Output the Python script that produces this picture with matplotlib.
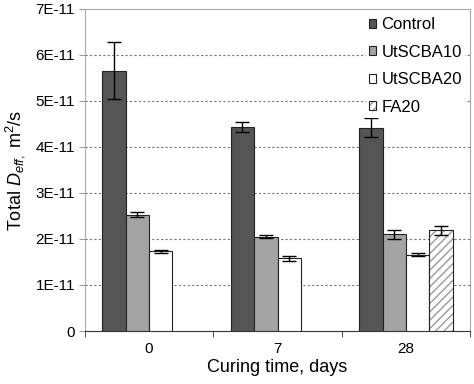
import matplotlib
matplotlib.use('Agg')
import matplotlib.pyplot as plt
import numpy as np
from matplotlib.legend_handler import HandlerTuple

plt.rcParams['font.family'] = ['Liberation Sans', 'DejaVu Sans']
plt.rcParams['mathtext.fontset'] = 'custom'
plt.rcParams['mathtext.rm'] = 'Liberation Sans'
plt.rcParams['mathtext.it'] = 'Liberation Sans:italic'

# Data (values in units of 1E-11 m2/s)
days = ['0', '7', '28']
series = ['Control', 'UtSCBA10', 'UtSCBA20', 'FA20']
control = [5.66, 4.44, 4.42]
control_err = [0.61, 0.11, 0.20]
utscba10 = [2.53, 2.05, 2.10]
utscba10_err = [0.06, 0.04, 0.10]
utscba20 = [1.73, 1.58, 1.66]
utscba20_err = [0.04, 0.05, 0.03]
fa20 = [np.nan, np.nan, 2.19]
fa20_err = [np.nan, np.nan, 0.10]
yticks = [0, 1, 2, 3, 4, 5, 6, 7]
ytick_labels = ['0', '1E-11', '2E-11', '3E-11', '4E-11', '5E-11', '6E-11', '7E-11']

fig = plt.figure(figsize=(4.74, 3.84), dpi=100)
ax = fig.add_axes([0.179, 0.138, 0.813, 0.839])

x = np.arange(len(days))
w = 0.182
offsets = np.array([-1.5, -0.5, 0.5, 1.5]) * w
errkw = dict(ecolor='black', elinewidth=1, capsize=5, capthick=1)

b1 = ax.bar(x + offsets[0], control, w, yerr=control_err, color='#555555',
            edgecolor='#222222', linewidth=0.8, error_kw=errkw, zorder=3)
b2 = ax.bar(x + offsets[1], utscba10, w, yerr=utscba10_err, color='#a3a3a3',
            edgecolor='#222222', linewidth=0.8, error_kw=errkw, zorder=3)
b3 = ax.bar(x + offsets[2], utscba20, w, yerr=utscba20_err, color='white',
            edgecolor='#222222', linewidth=0.8, error_kw=errkw, zorder=3)
# hatched bar: hatch in gray, outline drawn separately
b4h = ax.bar(x + offsets[3], fa20, w, color='white', edgecolor='#9a9a9a', hatch='////',
             linewidth=0, zorder=3)
b4 = ax.bar(x + offsets[3], fa20, w, yerr=fa20_err, fill=False, edgecolor='#222222',
            linewidth=0.8, error_kw=errkw, zorder=4)

ax.set_xlim(-0.5, 2.5)
ax.set_ylim(0, 7)
ax.set_yticks(yticks)
ax.set_yticklabels(ytick_labels)
ax.set_xticks(x)
ax.set_xticklabels(days)
ax.set_xticks([-0.5, 0.5, 1.5, 2.5], minor=True)
ax.tick_params(axis='x', which='major', length=0, labelsize=11, pad=8)
ax.tick_params(axis='x', which='minor', length=4, direction='out', color='#333333')
ax.tick_params(axis='y', length=4, direction='out', color='#999999', labelsize=11, pad=3)

for yv in yticks[1:-1]:
    ax.axhline(yv, color='#777777', linestyle=(0, (2, 2)), linewidth=0.8, zorder=1)

for side in ['left', 'top', 'right']:
    ax.spines[side].set_color('#aaaaaa')
ax.spines['bottom'].set_color('#333333')

ax.set_xlabel('Curing time, days', fontsize=13, labelpad=2)
ax.set_ylabel(r'Total $\mathit{D}_{\mathit{eff},}$ m$^2$/s', fontsize=13, labelpad=6)

handles = [b1.patches[0], b2.patches[0], b3.patches[0], (b4h.patches[2], b4.patches[2])]
leg = ax.legend(handles, series, loc='upper right', bbox_to_anchor=(1.0, 1.0),
                fontsize=12, handlelength=0.45, handleheight=0.45, handletextpad=0.3,
                labelspacing=0.75, frameon=True, fancybox=False, borderpad=0.2,
                borderaxespad=0.3, handler_map={tuple: HandlerTuple(ndivide=1)})
leg.get_frame().set_edgecolor('none')
leg.get_frame().set_facecolor('white')
leg.get_frame().set_alpha(1)

fig.savefig('out.png', dpi=100)
